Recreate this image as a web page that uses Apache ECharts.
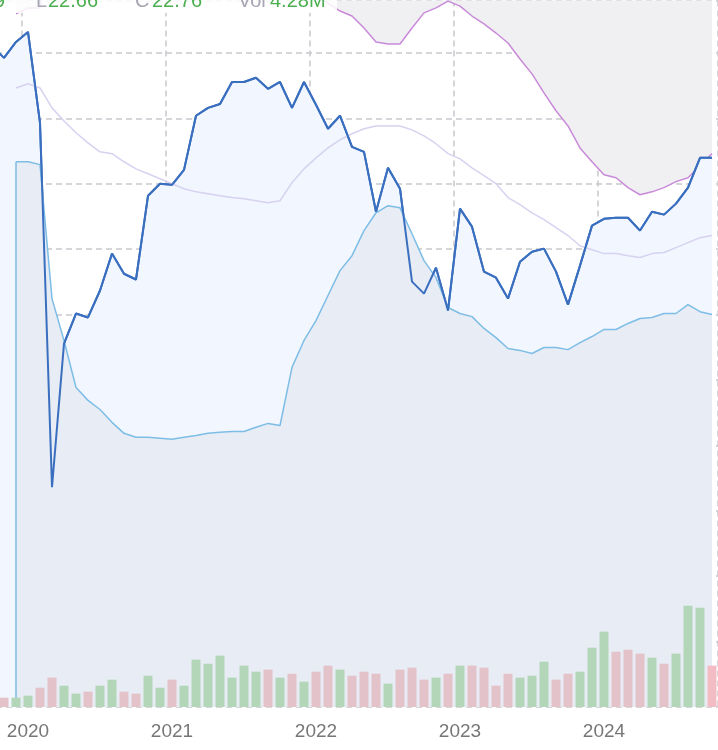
<!DOCTYPE html>
<html>
<head>
<meta charset="utf-8">
<script src="https://cdn.jsdelivr.net/npm/echarts@6/dist/echarts.min.js"></script>
<style>html,body{margin:0;padding:0;background:#fff;overflow:hidden}#chart{width:732px;height:750px;margin-left:-14px}</style>
</head>
<body>
<div id="chart"></div>
<script>
// 月度数据 2019-10 ~ 2024-10
var months = [];
for (var y = 2019; y <= 2024; y++) {
	for (var m = 1; m <= 12; m++) {
		if ((y === 2019 && m < 10) || (y === 2024 && m > 10)) continue;
		months.push(y + '-' + (m < 10 ? '0' + m : m));
	}
}

var closeData = [25.27, 24.81, 25.42, 25.80, 22.33, 8.40, 13.89, 15.04, 14.89, 15.92, 17.33, 16.56, 16.34, 19.54, 20.00, 19.96,
	20.53, 22.60, 22.90, 23.05, 23.89, 23.89, 24.05, 23.63, 23.89, 22.90, 23.89, 23.02, 22.10, 22.60, 21.41, 21.22,
	18.93, 20.61, 19.81, 16.26, 15.80, 16.79, 15.15, 19.05, 18.36, 16.64, 16.41, 15.61, 17.02, 17.40, 17.52, 16.64,
	15.38, 16.87, 18.40, 18.66, 18.70, 18.70, 18.21, 18.93, 18.82, 19.24, 19.85, 20.99, 20.99];
var lowerBand = [null, null, 20.84, 20.84, 20.73, 15.61, 14.01, 12.21, 11.72, 11.37, 10.88, 10.46, 10.31, 10.31, 10.27, 10.23,
	10.31, 10.38, 10.46, 10.50, 10.53, 10.53, 10.69, 10.84, 10.76, 12.98, 14.01, 14.77, 15.73, 16.68, 17.25, 18.21,
	18.89, 19.16, 19.08, 18.09, 17.06, 16.41, 15.27, 15.04, 14.92, 14.47, 14.12, 13.70, 13.63, 13.51, 13.74, 13.74,
	13.66, 13.93, 14.16, 14.43, 14.43, 14.66, 14.85, 14.89, 15.04, 15.04, 15.38, 15.11, 15.00];
var midBand = [null, null, 23.66, 23.82, 23.66, 22.90, 22.40, 21.95, 21.56, 21.22, 21.15, 20.84, 20.57, 20.38, 20.19, 20.00,
	19.81, 19.69, 19.62, 19.54, 19.47, 19.43, 19.35, 19.27, 19.35, 20.04, 20.57, 20.99, 21.37, 21.68, 21.91, 22.10,
	22.21, 22.21, 22.21, 22.06, 21.83, 21.53, 21.15, 20.95, 20.61, 20.31, 20.00, 19.47, 19.20, 18.89, 18.63, 18.32,
	18.02, 17.63, 17.48, 17.33, 17.33, 17.25, 17.18, 17.33, 17.37, 17.56, 17.75, 17.94, 18.02];
var upperBand = [null, null, 26.49, 26.72, 26.72, 30.2, 30.8, 31.7, 31.4, 31.1, 31.4, 31.2, 30.8, 30.5, 30.1, 29.8,
	29.3, 29.0, 28.8, 28.6, 28.4, 28.3, 28.0, 27.7, 27.9, 27.1, 27.1, 27.2, 26.9, 26.60, 26.41, 25.95,
	25.42, 25.34, 25.34, 25.95, 26.53, 26.72, 26.98, 26.79, 26.41, 26.11, 25.76, 25.38, 24.77, 24.20, 23.47, 22.79,
	22.21, 21.37, 20.84, 20.34, 20.23, 19.85, 19.58, 19.69, 19.85, 20.08, 20.23, 20.69, 21.15];
// 成交量(M)
var volume = [1.00, 0.97, 0.97, 1.18, 2.01, 3.06, 2.22, 1.39, 1.60, 2.22, 2.85, 1.60, 1.39, 3.26, 2.01, 2.85,
	2.22, 4.93, 4.51, 5.35, 3.06, 4.31, 3.68, 3.89, 3.06, 3.47, 2.64, 3.68, 4.31, 3.89, 3.26, 3.68,
	3.47, 2.43, 3.89, 4.10, 2.85, 3.06, 3.47, 4.31, 4.31, 4.10, 2.22, 3.47, 3.06, 3.26, 4.72, 2.85,
	3.47, 3.68, 6.18, 7.85, 5.76, 5.97, 5.56, 5.14, 4.51, 5.56, 10.56, 10.35, 4.31];
// 1 涨 / -1 跌
var volumeDir = [-1, -1, 1, 1, -1, -1, 1, 1, -1, 1, 1, -1, -1, 1, 1, -1,
	1, 1, 1, 1, 1, 1, 1, -1, 1, -1, 1, -1, -1, 1, -1, -1,
	-1, 1, -1, -1, -1, 1, -1, 1, -1, -1, -1, -1, 1, 1, 1, -1,
	-1, 1, 1, 1, -1, -1, -1, 1, -1, 1, 1, 1, -1];
var xTickLabels = ['2020', '2021', '2022', '2023', '2024'];

// 画布左移14px，使第一个月落在可视区外
var OFF = 14;
var myChart = echarts.init(document.getElementById('chart'));
var isYearStart = function (i) { return months[i].slice(5) === '01'; };
var gridDash = {color: '#c9c9ce', type: [6, 4], width: 1.5};

function legendText(x, text, fill) {
	return {type: 'text', x: x + OFF, y: 11, z: 101,
		style: {text: text, fill: fill, font: '20px Liberation Sans', verticalAlign: 'bottom'}};
}

myChart.setOption({
	animation: false,
	grid: {left: 0, right: 0, top: 0.6, bottom: 43},
	xAxis: {
		type: 'category',
		data: months,
		boundaryGap: true,
		axisLine: {show: false},
		axisTick: {show: false},
		axisLabel: {
			interval: function (i) { return isYearStart(i); },
			formatter: function (v) {
				var yr = v.slice(0, 4);
				return xTickLabels.indexOf(yr) >= 0 ? yr : '';
			},
			color: '#777', fontSize: 19, fontFamily: 'Liberation Sans', margin: 15
		},
		splitLine: {show: true, interval: function (i) { return isYearStart(i); }, lineStyle: gridDash}
	},
	yAxis: [{
		type: 'value', min: 0, max: 27, interval: 2.5,
		axisLine: {show: false}, axisTick: {show: false}, axisLabel: {show: false},
		splitLine: {lineStyle: gridDash}
	}, {
		type: 'value', min: 0, max: 73.6,
		show: false, splitLine: {show: false}
	}],
	series: [{
		name: 'upper', type: 'line', data: upperBand, symbol: 'none',
		lineStyle: {color: '#c98ad9', width: 1.5},
		areaStyle: {color: '#f0f0f3', opacity: 1, origin: 'end'}, z: 1
	}, {
		name: 'close', type: 'line', data: closeData, symbol: 'none',
		lineStyle: {color: '#3a6fc0', width: 2},
		areaStyle: {color: '#f2f6fe', opacity: 1}, z: 2
	}, {
		name: 'lower', type: 'line', data: lowerBand, symbol: 'none',
		lineStyle: {color: '#7dbde6', width: 1.5},
		areaStyle: {color: '#e8ecf5', opacity: 1}, z: 3,
		markLine: {
			silent: true, symbol: 'none', label: {show: false},
			lineStyle: {color: '#7dbde6', width: 1.5, type: 'solid'},
			data: [[{coord: [months[2], 0]}, {coord: [months[2], lowerBand[2]]}]]
		}
	}, {
		name: 'mid', type: 'line', data: midBand, symbol: 'none',
		lineStyle: {color: '#d6d2f0', width: 1.5}, z: 4
	}, {
		name: 'close-line', type: 'line', data: closeData, symbol: 'none',
		lineStyle: {color: '#3a6fc0', width: 2}, z: 6
	}, {
		name: 'vol', type: 'bar', yAxisIndex: 1, barWidth: '75%', z: 5,
		data: volume.map(function (v, i) {
			var c = volumeDir[i] > 0 ? '#b3d6b8' : '#e4c2c9';
			if (i === volume.length - 1) c = '#f3bcc4';
			return {value: v, itemStyle: {color: c}};
		})
	}],
	graphic: [
		{type: 'rect', left: OFF, top: 0, shape: {width: 337, height: 13}, style: {fill: 'rgba(255,255,255,0.85)'}, z: 100},
		legendText(-6, '9', '#4caf50'),
		legendText(36, 'L', '#a6a6b4'),
		legendText(48, '22.66', '#4caf50'),
		legendText(135, 'C', '#a6a6b4'),
		legendText(152, '22.76', '#4caf50'),
		legendText(238, 'Vol', '#a6a6b4'),
		legendText(270, '4.28M', '#4caf50')
	]
});

window.onresize = function () {
	myChart.resize();
};
</script>
</body>
</html>
